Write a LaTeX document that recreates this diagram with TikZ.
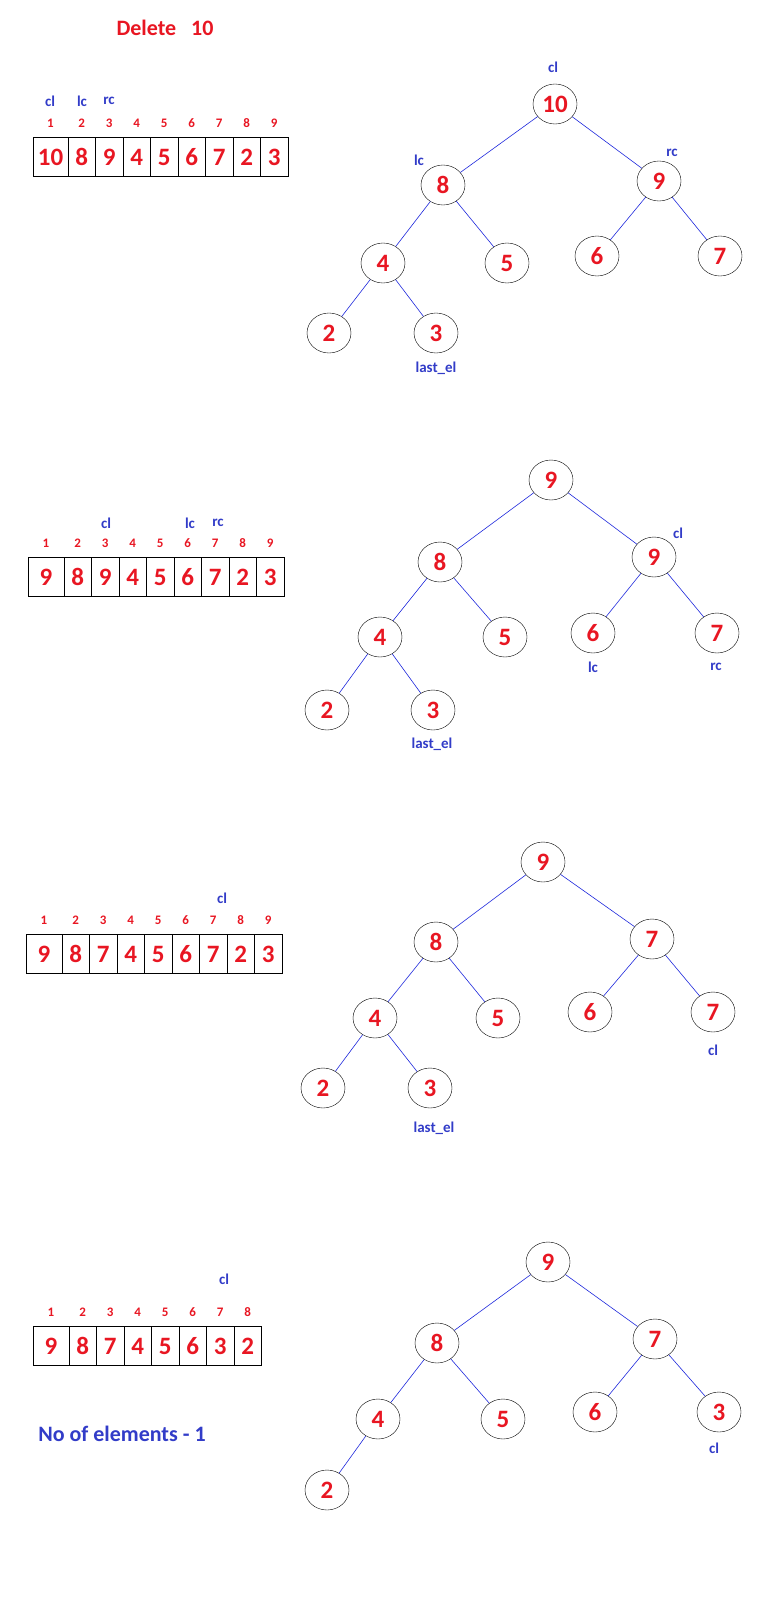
\documentclass[tikz,border=0pt]{standalone}
\usepackage{fontspec}
\setmainfont{Carlito}
\usetikzlibrary{shapes.geometric}
\definecolor{hred}{RGB}{232,22,34}
\definecolor{hblue}{RGB}{50,60,200}
\definecolor{eblue}{RGB}{30,40,220}
\tikzset{
 cell/.style={draw,thick,minimum height=39pt,inner sep=0pt,text=hred,font=\bfseries\fontsize{25}{25}\selectfont},
 idx/.style={text=hred,font=\bfseries\fontsize{13}{13}\selectfont},
 lbl/.style={text=hblue,font=\bfseries\fontsize{15}{15}\selectfont},
 tn/.style={draw,ellipse,minimum width=44pt,minimum height=40pt,inner sep=0pt,text=hred,font=\bfseries\fontsize{25}{25}\selectfont},
 ed/.style={eblue,line width=0.6pt}
}
\newcommand\myarr[5]{%
 \foreach \v [count=\i] in {#5} {
  \pgfmathsetmacro\cx{\i==1 ? #2+#4/2 : #2+#4+(\i-1.5)*27.5}
  \pgfmathsetmacro\cw{\i==1 ? #4 : 27.5}
  \node[cell,minimum width=\cw pt] (#1\i) at (\cx,#3) {\v};
  \node[idx] (#1i\i) at (\cx,#3-34) {\i};
 }}
\begin{document}
\begin{tikzpicture}[x=1pt,y=-1pt]
\useasboundingbox (0,0) rectangle (763,1600);
\node[text=hred,font=\bfseries\fontsize{22}{22}\selectfont] (title) at (165,28) {Delete\ \ \ 10};
% panel 1
\myarr{a}{33}{157}{35}{10,8,9,4,5,6,7,2,3}
\node[lbl] (al1) at (50,101) {cl};
\node[lbl] (al2) at (82,101) {lc};
\node[lbl] (al3) at (109,101) {rc};
\node[tn] (p1a) at (555,104) {10};
\node[tn] (p1b) at (443,185) {8};
\node[tn] (p1c) at (659,181) {9};
\node[tn] (p1d) at (383,263) {4};
\node[tn] (p1e) at (507,263) {5};
\node[tn] (p1f) at (597,256) {6};
\node[tn] (p1g) at (720,256) {7};
\node[tn] (p1h) at (329,333) {2};
\node[tn] (p1i) at (436,333) {3};
\draw[ed] (p1a)--(p1b) (p1a)--(p1c) (p1b)--(p1d) (p1b)--(p1e) (p1c)--(p1f) (p1c)--(p1g) (p1d)--(p1h) (p1d)--(p1i);
\node[lbl] (t1l1) at (553,67) {cl};
\node[lbl] (t1l2) at (419,160) {lc};
\node[lbl] (t1l3) at (672,153) {rc};
\node[lbl] (t1l4) at (436,368) {last\_el};
% panel 2
\myarr{b}{28}{577}{36}{9,8,9,4,5,6,7,2,3}
\node[lbl] (bl1) at (106,523) {cl};
\node[lbl] (bl2) at (190,523) {lc};
\node[lbl] (bl3) at (218,523) {rc};
\node[tn] (p2a) at (551,480) {9};
\node[tn] (p2b) at (440,562) {8};
\node[tn] (p2c) at (654,557) {9};
\node[tn] (p2d) at (380,637) {4};
\node[tn] (p2e) at (505,637) {5};
\node[tn] (p2f) at (593,633) {6};
\node[tn] (p2g) at (717,633) {7};
\node[tn] (p2h) at (327,710) {2};
\node[tn] (p2i) at (433,710) {3};
\draw[ed] (p2a)--(p2b) (p2a)--(p2c) (p2b)--(p2d) (p2b)--(p2e) (p2c)--(p2f) (p2c)--(p2g) (p2d)--(p2h) (p2d)--(p2i);
\node[lbl] (t2l1) at (678,533) {cl};
\node[lbl] (t2l2) at (593,667) {lc};
\node[lbl] (t2l3) at (716,667) {rc};
\node[lbl] (t2l4) at (432,744) {last\_el};
% panel 3
\myarr{c}{26}{954}{36}{9,8,7,4,5,6,7,2,3}
\node[lbl] (cl1) at (222,898) {cl};
\node[tn] (p3a) at (543,862) {9};
\node[tn] (p3b) at (436,942) {8};
\node[tn] (p3c) at (652,939) {7};
\node[tn] (p3d) at (375,1018) {4};
\node[tn] (p3e) at (498,1018) {5};
\node[tn] (p3f) at (590,1012) {6};
\node[tn] (p3g) at (713,1012) {7};
\node[tn] (p3h) at (323,1088) {2};
\node[tn] (p3i) at (430,1088) {3};
\draw[ed] (p3a)--(p3b) (p3a)--(p3c) (p3b)--(p3d) (p3b)--(p3e) (p3c)--(p3f) (p3c)--(p3g) (p3d)--(p3h) (p3d)--(p3i);
\node[lbl] (t3l1) at (713,1050) {cl};
\node[lbl] (t3l4) at (434,1128) {last\_el};
% panel 4
\myarr{d}{33}{1346}{36}{9,8,7,4,5,6,3,2}
\node[lbl] (dl1) at (224,1279) {cl};
\node[text=hblue,font=\bfseries\fontsize{22}{22}\selectfont] (note) at (122,1434) {No of elements - 1};
\node[tn] (p4a) at (548,1262) {9};
\node[tn] (p4b) at (437,1343) {8};
\node[tn] (p4c) at (655,1339) {7};
\node[tn] (p4d) at (378,1419) {4};
\node[tn] (p4e) at (503,1419) {5};
\node[tn] (p4f) at (595,1412) {6};
\node[tn] (p4g) at (719,1412) {3};
\node[tn] (p4h) at (327,1490) {2};
\draw[ed] (p4a)--(p4b) (p4a)--(p4c) (p4b)--(p4d) (p4b)--(p4e) (p4c)--(p4f) (p4c)--(p4g) (p4d)--(p4h);
\node[lbl] (t4l1) at (714,1448) {cl};
\end{tikzpicture}
\end{document}
